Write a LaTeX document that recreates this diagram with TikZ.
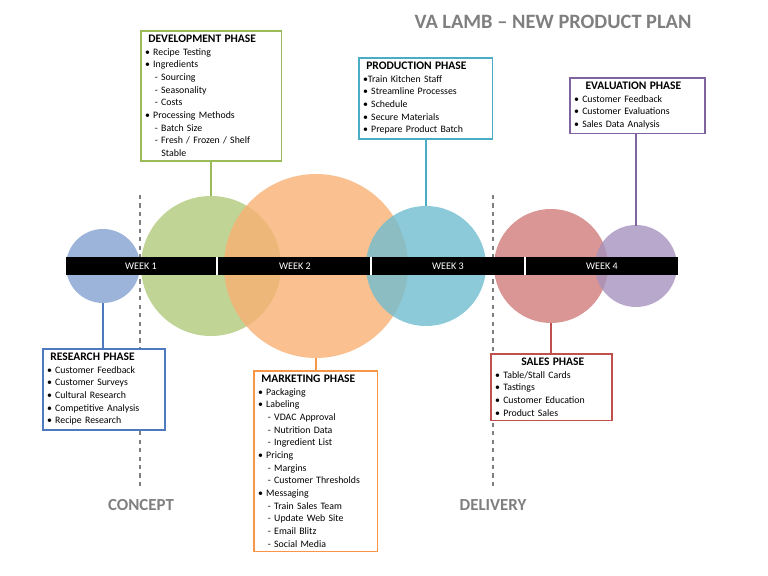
\documentclass[tikz,border=0pt]{standalone}
\usepackage{fontspec}
\setmainfont{Carlito}
\definecolor{resblue}{HTML}{4F79BE}
\definecolor{devgreen}{HTML}{9BBB59}
\definecolor{mkorange}{HTML}{F79646}
\definecolor{prteal}{HTML}{4BACC6}
\definecolor{slred}{HTML}{C0504D}
\definecolor{evpurple}{HTML}{8064A2}
\definecolor{labgray}{HTML}{7F7F7F}
\tikzset{
  phase/.style={draw=#1, line width=1.2pt, fill=white, anchor=north west, align=left,
    inner sep=3pt, font=\fontsize{7}{9}\selectfont},
  blob/.style={fill=#1, fill opacity=0.8, draw=none},
  stem/.style={draw=#1, line width=1.2pt},
  weeklab/.style={text=white, font=\fontsize{7.2}{8}\selectfont},
  stage/.style={text=labgray, font=\bfseries\fontsize{12}{13}\selectfont}
}
\newcommand{\ttl}[1]{\hspace*{0pt}\textbf{\fontsize{8.2}{10}\selectfont #1}}
\begin{document}
\begin{tikzpicture}[x=0.025cm,y=-0.025cm]
  \useasboundingbox (0,0) rectangle (768,576);

  \node[text=labgray, font=\bfseries\fontsize{14.5}{15}\selectfont] (title) at (553,22) {VA LAMB – NEW PRODUCT PLAN};

  % dashed stage markers
  \draw[labgray, dashed, line width=1.2pt] (140,195) -- (140,490);
  \draw[labgray, dashed, line width=1.2pt] (493,195) -- (493,490);

  % phase circles
  \fill[blob=resblue!70] (103,266) circle (37);
  \fill[blob=devgreen!80] (211,266) circle (70);
  \fill[blob=mkorange!75] (316,266) circle (92);
  \fill[blob=prteal!80] (426,266) circle (60);
  \fill[blob=slred!75] (551,266) circle (57);
  \fill[blob=evpurple!70] (636,266) circle (41);

  % timeline
  \fill[black] (66,257) rectangle (678,275);
  \foreach \x in {217,371,525} \draw[white, line width=1pt] (\x,257) -- (\x,275);
  \foreach \x/\n in {141/1,295/2,448/3,602/4}
    \node[weeklab] (w\n) at (\x,266) {WEEK \n};

  % boxes
  \node[phase=resblue, text width=81] (research) at (42,348) {\ttl{\ RESEARCH PHASE}\\
    • Customer Feedback\\ • Customer Surveys\\ • Cultural Research\\ • Competitive Analysis\\ • Recipe Research};
  \node[phase=devgreen, text width=94] (devel) at (140,30) {\ttl{\ DEVELOPMENT PHASE}\\
    • Recipe Testing\\ • Ingredients\\ \quad - Sourcing\\ \quad - Seasonality\\ \quad - Costs\\
    • Processing Methods\\ \quad - Batch Size\\ \quad - Fresh / Frozen / Shelf\\ \quad\ \ Stable};
  \node[phase=mkorange, text width=82] (market) at (253,370) {\ttl{\ MARKETING PHASE}\\
    • Packaging\\ • Labeling\\ \quad - VDAC Approval\\ \quad - Nutrition Data\\ \quad - Ingredient List\\
    • Pricing\\ \quad - Margins\\ \quad - Customer Thresholds\\ • Messaging\\ \quad - Train Sales Team\\
    \quad - Update Web Site\\ \quad - Email Blitz\\ \quad - Social Media};
  \node[phase=prteal, text width=89] (product) at (358,57) {\ttl{\ PRODUCTION PHASE}\\
    •Train Kitchen Staff\\ • Streamline Processes\\ • Schedule\\ • Secure Materials\\ • Prepare Product Batch};
  \node[phase=slred, text width=80] (sales) at (490,353) {\ttl{\qquad\ SALES PHASE}\\
    • Table/Stall Cards\\ • Tastings\\ • Customer Education\\ • Product Sales};
  \node[phase=evpurple, text width=90] (evalu) at (569,77) {\ttl{\quad EVALUATION PHASE}\\
    • Customer Feedback\\ • Customer Evaluations\\ • Sales Data Analysis};

  % stems
  \coordinate (cres) at (103,303);
  \coordinate (cdev) at (211,196);
  \coordinate (cmkt) at (316,358);
  \coordinate (cprd) at (426,206);
  \coordinate (csal) at (551,323);
  \coordinate (ceva) at (636,226);
  \draw[stem=resblue] (cres) -- (research.north -| cres);
  \draw[stem=devgreen] (cdev) -- (devel.south -| cdev);
  \draw[stem=mkorange] (cmkt) -- (market.north -| cmkt);
  \draw[stem=prteal] (cprd) -- (product.south -| cprd);
  \draw[stem=slred] (csal) -- (sales.north -| csal);
  \draw[stem=evpurple] (ceva) -- (evalu.south -| ceva);

  \node[stage] (concept) at (141,505) {CONCEPT};
  \node[stage] (deliv) at (493,505) {DELIVERY};
\end{tikzpicture}
\end{document}
